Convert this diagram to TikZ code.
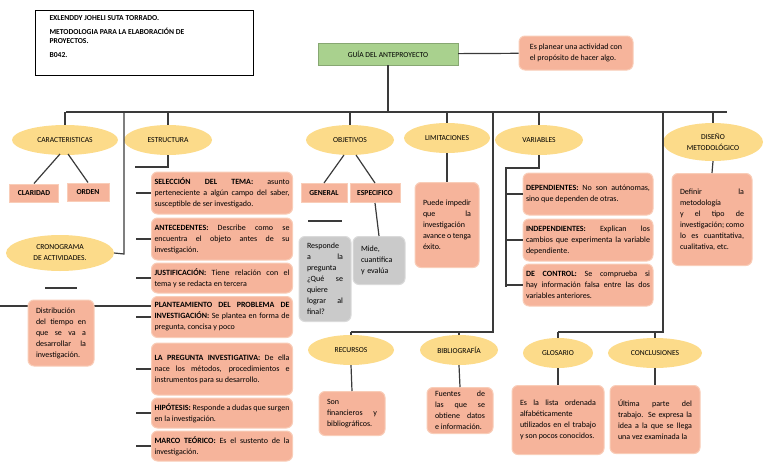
\documentclass[tikz,border=0pt]{standalone}
\usepackage{fontspec}
\setmainfont{Carlito}
\usetikzlibrary{calc,positioning,shapes.geometric}
\definecolor{ovfill}{HTML}{FCDB8A}
\definecolor{bxfill}{HTML}{F6B49B}
\definecolor{bxline}{HTML}{F9CDB8}
\definecolor{grfill}{HTML}{CACACA}
\definecolor{gnfill}{HTML}{A9D18E}
\definecolor{lnc}{HTML}{3A3A3A}

\begin{document}
\begin{tikzpicture}[x=1pt, y=-1pt,
    font=\fontsize{8}{11}\selectfont,
    execute at begin node={\hyphenpenalty=10000\exhyphenpenalty=10000\tolerance=9999\emergencystretch=20pt},
    oval/.style={ellipse, fill=ovfill, inner sep=0pt, align=center, font=\fontsize{7.6}{11}\selectfont},
    box/.style={rectangle, rounded corners=6pt, fill=bxfill, draw=bxline, line width=1pt, align=justify, inner sep=3pt},
    nbox/.style={box, inner xsep=8pt},
    grbox/.style={nbox, fill=grfill, draw=grfill!70},
    tag/.style={rectangle, fill=bxfill, draw=bxline, line width=1pt, font=\fontsize{7.6}{9}\selectfont\bfseries},
    link/.style={draw=lnc, line width=1.2pt}]

  % Frame of the page
  \useasboundingbox (0,0) rectangle (768,466);

  % Header
  \node[draw, line width=1pt, minimum width=218, minimum height=65, anchor=north west, inner sep=0pt] (head) at (35,10) {};
  \node[anchor=north west, align=left, font=\fontsize{7.6}{9.5}\selectfont\bfseries] at (46,12)
    {EXLENDDY JOHELI SUTA TORRADO.\\[4pt] METODOLOGIA PARA LA ELABORACIÓN DE\\PROYECTOS.\\[4pt] B042.};

  % Root
  \node[rectangle, fill=gnfill, draw=gnfill!80!black, minimum width=140, minimum height=22, font=\fontsize{7.6}{9}\selectfont] (guia) at (388,54) {GUÍA DEL ANTEPROYECTO};
  \node[box, align=left, minimum width=114, minimum height=34] (def) at (576,53) {Es planear una actividad con\\el propósito de hacer algo.};
  \draw[link] (guia) -- (def);

  % Bus
  \coordinate (busL) at (66,112);
  \coordinate (busR) at (727,112);
  \draw[link] (guia.south) -- (guia.south |- busL);
  \draw[link] (busL) -- (busR);

  % Ovals of the first row
  \node[oval, minimum width=106, minimum height=30] (carac) at (65,140) {CARACTERISTICAS};
  \node[oval, minimum width=88, minimum height=30] (estru) at (168,140) {ESTRUCTURA};
  \node[oval, minimum width=88, minimum height=30] (objet) at (350,140) {OBJETIVOS};
  \node[oval, minimum width=86, minimum height=30] (limit) at (447,138) {LIMITACIONES};
  \node[oval, minimum width=88, minimum height=30] (varia) at (539,140) {VARIABLES};
  \node[oval, minimum width=100, minimum height=38] (disen) at (713,142) {DISEÑO\\METODOLÓGICO};
  \foreach \n in {carac,estru,objet,limit,varia,disen}
    \draw[link] (\n.north) -- (\n.north |- busL);

  % Cronograma
  \node[oval, minimum width=108, minimum height=36] (crono) at (60,253) {CRONOGRAMA\\DE ACTIVIDADES.};
  \coordinate (cronoT) at (124,112);
  \draw[link] (cronoT) -- (124,254) -- (crono.east);
  \draw[link] (45,288) -- (77,288);
  \coordinate (planL) at (0,306);
  \coordinate (planR) at (151,306);
  \draw[link] (planL) -- (planR);
  \node[nbox, text width=50, minimum height=66] (distr) at (61,333) {Distribución del tiempo en que se va a desarrollar la investigación.};

  % Caracteristicas
  \node[tag, minimum width=49, minimum height=18] (clari) at (34,193) {CLARIDAD};
  \node[tag, minimum width=42, minimum height=18] (orden) at (88,192) {ORDEN};
  \draw[link] (60,154) -- (clari.north);
  \draw[link] (68,154) -- (orden.north);

  % Estructura
  \coordinate (estruB) at (135,167);
  \draw[link] (estru.south) -- (estru.south |- estruB) -- (estruB);
  \foreach \n/\y/\h/\t in {
    selec/193/42/{\textbf{SELECCIÓN DEL TEMA:} asunto perteneciente a algún campo del saber, susceptible de ser investigado.},
    antec/239/42/{\textbf{ANTECEDENTES:} Describe como se encuentra el objeto antes de su investigación.},
    justi/278/30/{\textbf{JUSTIFICACIÓN:} Tiene relación con el tema y se redacta en tercera},
    plant/317/41/{\textbf{PLANTEAMIENTO DEL PROBLEMA DE INVESTIGACIÓN:} Se plantea en forma de pregunta, concisa y poco},
    pregu/369/52/{\textbf{LA PREGUNTA INVESTIGATIVA:} De ella nace los métodos, procedimientos e instrumentos para su desarrollo.},
    hipot/413/30/{\textbf{HIPÓTESIS:} Responde a dudas que surgen en la investigación.},
    marco/446/30/{\textbf{MARCO TEÓRICO:} Es el sustento de la investigación.}} {
    \node[box, text width=135, minimum height=\h] (\n) at (222,\y) {\t};
    \draw[link] (\n.west) -- ++(-15,0);
  }

  % Objetivos
  \node[tag, minimum width=46, minimum height=19] (gener) at (324,193) {GENERAL};
  \node[tag, minimum width=50, minimum height=19] (espec) at (375,193) {ESPECIFICO};
  \draw[link] (344,155) -- (gener.north);
  \draw[link] (356,155) -- (espec.north);
  \draw[link] (308,221) -- (342,221);
  \node[grbox, text width=36, minimum height=85] (respo) at (325,279) {Responde a la pregunta ¿Qué se quiere lograr al final?};
  \node[grbox, align=left, text width=36, minimum height=48, anchor=north] (mide) at (379,236) {Mide,\\cuantifica\\y evalúa};
  \draw[link] (espec.south) -- (mide.north);

  % Limitaciones
  \node[nbox, text width=48, minimum height=85, anchor=north] (impe) at (447,182) {Puede impedir que la investigación avance o tenga éxito.};
  \draw[link] (limit.south) -- (impe.north);

  % Variables
  \coordinate (variaB) at (506,168);
  \draw[link] (varia.south) -- (varia.south |- variaB) -- (variaB) -- (506,287);
  \foreach \n/\y/\t in {
    depen/194/{\textbf{DEPENDIENTES:} No son autónomas, sino que dependen de otras.},
    indep/240/{\textbf{INDEPENDIENTES:} Explican los cambios que experimenta la variable dependiente.},
    contr/285/{\textbf{DE CONTROL:} Se comprueba si hay información falsa entre las dos variables anteriores.}} {
    \node[box, text width=124, minimum height=42] (\n) at (588,\y) {\t};
    \draw[link] (\n.west) -- (506,\y);
  }

  % Diseno metodologico
  \node[nbox, text width=64, minimum height=92, anchor=north] (defin) at (712,173) {Definir la metodología y el tipo de investigación; como lo es cuantitativa, cualitativa, etc.};
  \draw[link] (disen.south) -- (defin.north);

  % Second row
  \coordinate (midT) at (493,112);
  \coordinate (midB) at (351,332);
  \draw[link] (midT) -- (493,332) -- (midB);
  \coordinate (rigT) at (663,112);
  \coordinate (rigB) at (558,332);
  \draw[link] (rigT) -- (663,332) -- (rigB);
  \node[oval, minimum width=86, minimum height=30] (recur) at (351,350) {RECURSOS};
  \node[oval, minimum width=78, minimum height=30] (bibli) at (459,350) {BIBLIOGRAFÍA};
  \node[oval, minimum width=70, minimum height=30] (glosa) at (558,353) {GLOSARIO};
  \node[oval, minimum width=94, minimum height=30] (concl) at (655,353) {CONCLUSIONES};
  \foreach \n in {recur,bibli,glosa,concl}
    \draw[link] (\n.north) -- (\n.north |- midB);

  \node[nbox, text width=50, minimum height=44, anchor=north] (finan) at (352,391) {Son financieros y bibliográficos.};
  \node[nbox, text width=50, minimum height=46, anchor=north] (fuent) at (460,387) {Fuentes de las que se obtiene datos e información.};
  \node[nbox, text width=76, minimum height=69, anchor=north] (lista) at (558,385) {Es la lista ordenada alfabéticamente utilizados en el trabajo y son pocos conocidos.};
  \node[nbox, text width=74, minimum height=68, anchor=north] (ultim) at (655,385) {Última parte del trabajo. Se expresa la idea a la que se llega una vez examinada la};
  \draw[link] (recur.south) -- (finan.north);
  \draw[link] (bibli.south) -- (fuent.north);
  \draw[link] (glosa.south) -- (lista.north);
  \draw[link] (concl.south) -- (ultim.north);

\end{tikzpicture}
\end{document}
